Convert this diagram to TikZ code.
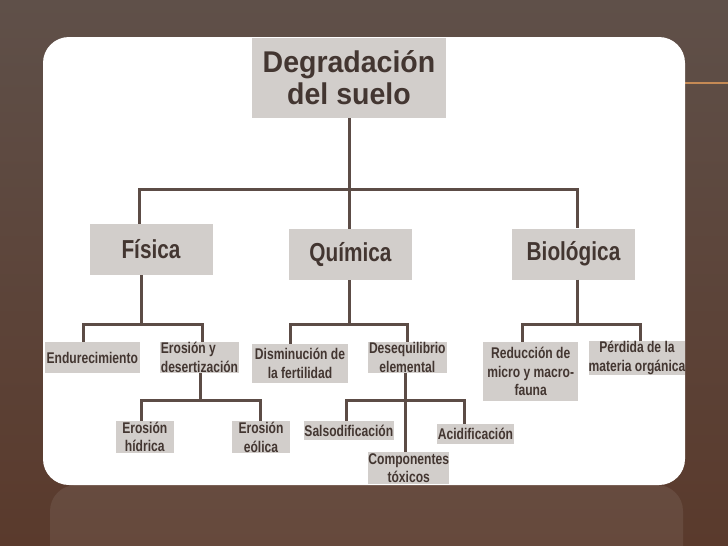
\documentclass[tikz,border=0pt]{standalone}
\usepackage{fontspec}
\setmainfont{Liberation Sans}
\newfontfamily\rootfont[FakeStretch=0.95]{Liberation Sans}
\newfontfamily\headfont[FakeStretch=0.8]{Liberation Sans}
\newfontfamily\smallfont[FakeStretch=0.78]{Liberation Sans}
\definecolor{bgtop}{HTML}{5F5049}
\definecolor{bgbot}{HTML}{5A3A2C}
\definecolor{boxgray}{HTML}{D2CECB}
\definecolor{ink}{HTML}{433631}
\definecolor{linecol}{HTML}{5C4C46}
\definecolor{rule}{HTML}{C58A55}
\begin{document}
\begin{tikzpicture}[x=1pt, y=-1pt,
    box/.style={fill=boxgray, text=ink, inner sep=0pt, align=center},
    toplvl/.style={box, font=\rootfont\bfseries\fontsize{30}{32}\selectfont},
    headlvl/.style={box, font=\headfont\bfseries\fontsize{26}{28}\selectfont, minimum width=123pt, minimum height=51pt},
    leaf/.style={box, font=\smallfont\bfseries\fontsize{15.5}{18.5}\selectfont},
    link/.style={draw=linecol, line width=3pt}]
    \useasboundingbox (0,0) rectangle (728,546);
    \clip (0,0) rectangle (728,546);
    % background and panel
    \shade[top color=bgtop, bottom color=bgbot] (0,0) rectangle (728,546);
    \draw[rule, line width=2pt] (685,83) -- (728,83);
    \fill[white, opacity=0.08, rounded corners=26pt] (50,485) rectangle (683,600);
    \fill[white, rounded corners=26pt] (43,37) rectangle (685,485);
    % boxes
    \node[toplvl, minimum width=194pt, minimum height=80pt] (root) at (349,78) {Degradación\\del suelo};
    \node[headlvl] (fis) at (151,249.5) {Física};
    \node[headlvl] (qui) at (350.5,254.5) {Química};
    \node[headlvl] (bio) at (573.5,254) {Biológica};
    \node[leaf, minimum width=95pt, minimum height=31pt] (endu) at (92.3,357.5) {Endurecimiento};
    \node[leaf, minimum width=79pt, minimum height=31pt, align=left] (erodes) at (199.5,357.5) {Erosión y\\desertización};
    \node[leaf, minimum width=96pt, minimum height=39pt] (dism) at (300,363.5) {Disminución de\\la fertilidad};
    \node[leaf, minimum width=79pt, minimum height=31pt] (deseq) at (407.3,357.5) {Desequilibrio\\elemental};
    \node[leaf, minimum width=95pt, minimum height=59pt] (red) at (530.7,371.4) {Reducción de\\micro y macro-\\fauna};
    \node[leaf, minimum width=90pt, minimum height=32pt] (perd) at (637,358) {Pérdida de la\\materia orgánica};
    \node[leaf, minimum width=58pt, minimum height=32pt] (hid) at (144.8,436.9) {Erosión\\hídrica};
    \node[leaf, minimum width=58pt, minimum height=32pt] (eol) at (261,437.3) {Erosión\\eólica};
    \node[leaf, minimum width=90pt, minimum height=19pt] (sals) at (348.8,430.5) {Salsodificación};
    \node[leaf, minimum width=77pt, minimum height=20pt] (acid) at (475.5,434) {Acidificación};
    \node[leaf, minimum width=77pt, minimum height=32pt] (comp) at (408.7,468) {Componentes\\tóxicos};
    % first split
    \coordinate (t1l) at (139,189);
    \coordinate (t1r) at (577,189);
    \draw[link] (root) -- (root |- qui.north);
    \draw[link] (fis.north -| t1l) |- (t1r) -- (bio.north -| t1r);
    % fisica
    \coordinate (f0) at (141.6,324);
    \coordinate (fl) at (83.6,324);
    \coordinate (fr) at (202,324);
    \draw[link] (fis.south -| f0) -- (f0);
    \draw[link] (endu.north -| fl) |- (fr) -- (erodes.north -| fr);
    % quimica
    \coordinate (ql) at (290,324);
    \coordinate (qr) at (407.6,324);
    \draw[link] (qui.south -| root) -- (root |- ql);
    \draw[link] (dism.north -| ql) |- (qr) -- (deseq.north -| qr);
    % biologica
    \coordinate (bl) at (522,324);
    \coordinate (br) at (640.6,324);
    \draw[link] (bio.south -| t1r) -- (t1r |- bl);
    \draw[link] (red.north -| bl) |- (br) -- (perd.north -| br);
    % erosion
    \coordinate (e0) at (200.5,400.7);
    \coordinate (el) at (141.6,400.7);
    \coordinate (er) at (260,400.7);
    \draw[link] (erodes.south -| e0) -- (e0);
    \draw[link] (hid.north -| el) |- (er) -- (eol.north -| er);
    % desequilibrio
    \coordinate (d0) at (405,400);
    \coordinate (dl) at (346,400);
    \coordinate (dr) at (464,400);
    \draw[link] (deseq.south -| d0) -- (comp.north -| d0);
    \draw[link] (sals.north -| dl) |- (dr) -- (acid.north -| dr);
\end{tikzpicture}
\end{document}
